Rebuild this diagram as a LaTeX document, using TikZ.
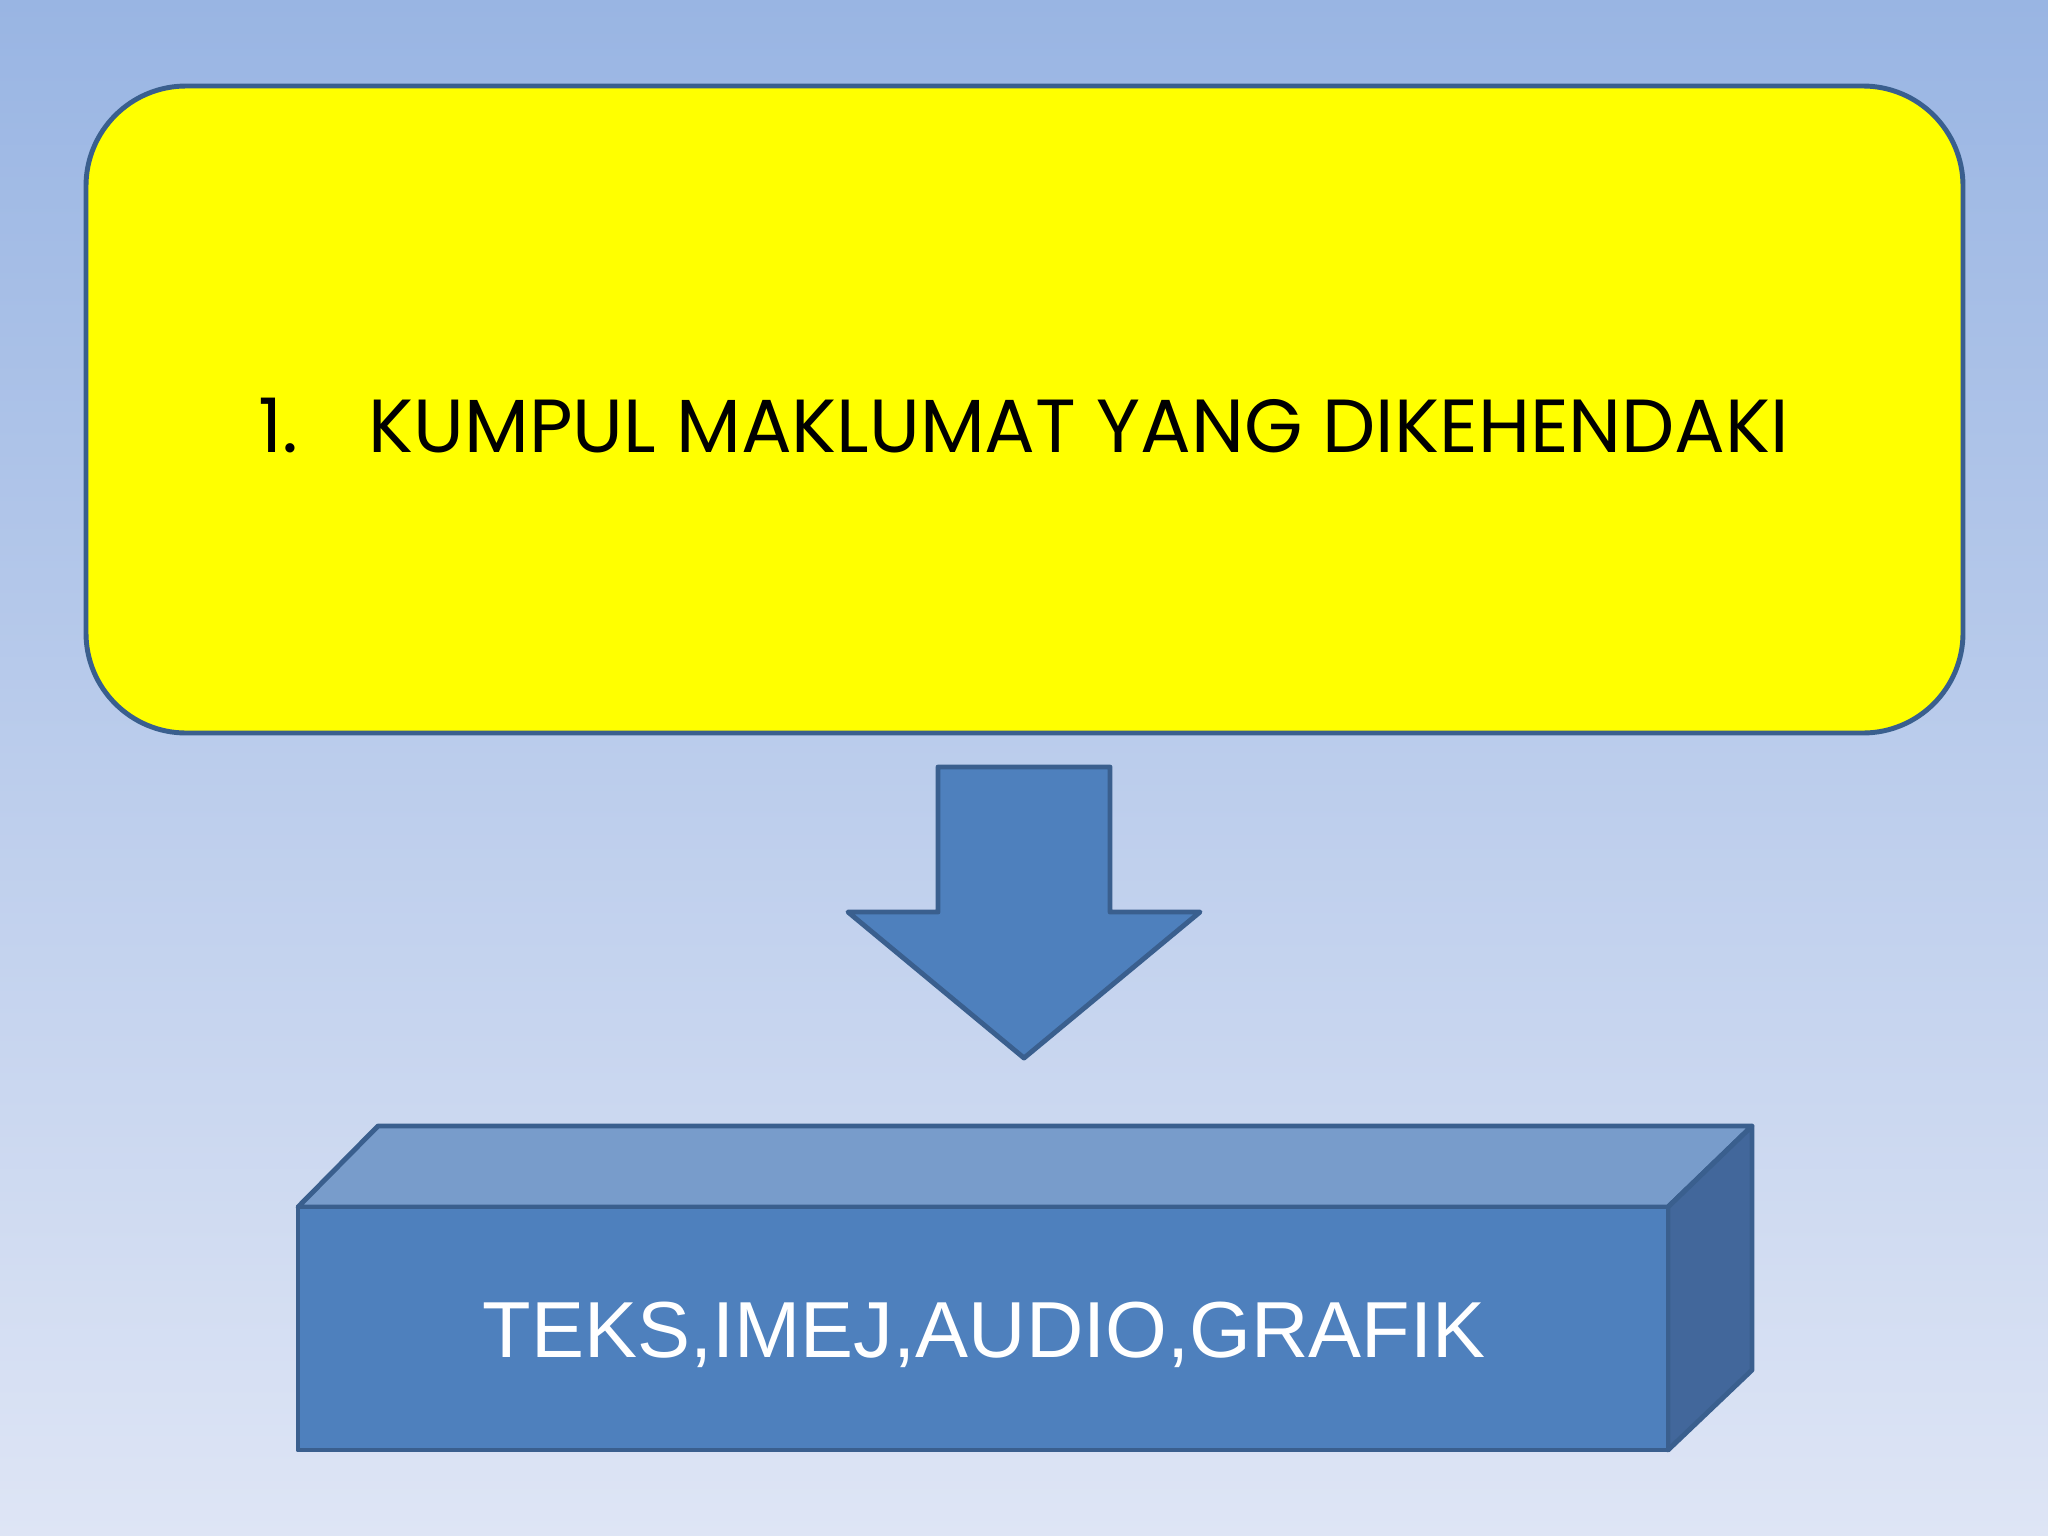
\documentclass[tikz,border=0pt]{standalone}
\usepackage{fontspec}
\setmainfont{Liberation Sans}
\newfontfamily\handfont{Poppins}
\definecolor{edgeblue}{HTML}{3A5F8E}
\definecolor{frontblue}{HTML}{4E80BD}
\definecolor{topblue}{HTML}{789CCB}
\definecolor{sideblue}{HTML}{42679B}
\definecolor{bgtop}{HTML}{99B5E3}
\definecolor{bgbottom}{HTML}{DEE5F5}
\definecolor{boxyellow}{HTML}{FFFF00}

\begin{document}
\begin{tikzpicture}[x=0.01cm,y=-0.01cm,
		outline/.style={draw=edgeblue,line width=1.4pt,line join=round},
		label/.style={inner sep=0pt,anchor=base}]
		\useasboundingbox (0,0) rectangle (2048,1536);
		\shade[top color=bgtop,bottom color=bgbottom] (0,0) rectangle (2048,1536);

		% yellow box
		\draw[outline,fill=boxyellow,rounded corners=1cm] (86,86) rectangle (1963,733);
		\node[label,font=\handfont\fontsize{21.4}{25}\selectfont] (step) at (1024,452)
			{1.\hspace{0.7cm}KUMPUL MAKLUMAT YANG DIKEHENDAKI};

		% down arrow
		\draw[outline,fill=frontblue] (938,767) -- (1110,767) -- (1110,912) -- (1200,912)
			-- (1024,1058) -- (848,912) -- (938,912) -- cycle;

		% box
		\draw[outline,fill=topblue] (298,1207) -- (378,1126) -- (1752,1126) -- (1668,1207) -- cycle;
		\draw[outline,fill=sideblue] (1668,1207) -- (1752,1126) -- (1752,1370) -- (1668,1450) -- cycle;
		\draw[outline,fill=frontblue] (298,1207) rectangle (1668,1450);
		\node[label,text=white,font=\fontsize{22.6}{27}\selectfont] (media) at (984,1357)
			{TEKS,IMEJ,AUDIO,GRAFIK};
\end{tikzpicture}
\end{document}
